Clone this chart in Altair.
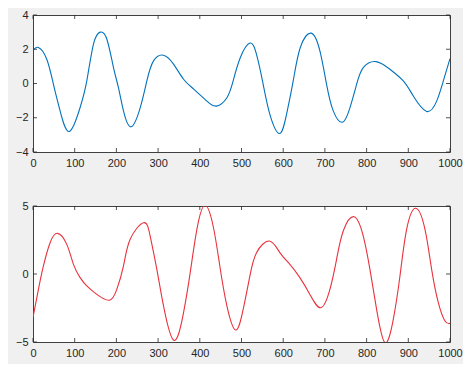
import altair as alt
import pandas as pd

# Top series (blue)
top_x = [0, 13, 33, 49, 65, 87, 113, 129, 145, 161, 177, 193, 205, 217, 235, 257, 273, 289, 313,
         337, 361, 386, 417, 440, 465, 480, 497, 520, 536, 552, 568, 591, 608, 624, 641, 667, 688,
         704, 720, 742, 760, 776, 792, 823, 856, 888, 912, 944, 968, 984, 1000]
top_y = [1.95, 2.1, 1.42, -0.05, -1.6, -2.8, -1.4, 0.15, 2.3, 3.0, 2.6, 0.93, -0.25, -1.6, -2.53,
         -1.42, 0.15, 1.32, 1.65, 1.13, 0.25, -0.34, -1.03, -1.32, -0.83, 0.15, 1.5, 2.36, 1.7,
         -0.05, -1.8, -2.92, -1.8, 0.15, 2.1, 2.94, 1.9, -0.05, -1.6, -2.26, -1.42, -0.05, 0.93,
         1.28, 0.83, 0.15, -0.73, -1.63, -1.03, 0.15, 1.45]

# Bottom series (red)
bot_x = [0, 13, 25, 41, 59, 81, 97, 113, 129, 153, 183, 201, 217, 233, 265, 281, 297, 313, 338,
         361, 377, 393, 412, 432, 448, 465, 486, 504, 520, 536, 567, 592, 616, 640, 664, 690, 712,
         728, 744, 770, 792, 808, 824, 844, 864, 880, 896, 918, 940, 956, 972, 988, 1000]
bot_y = [-3.2, -1.13, 0.59, 2.3, 2.99, 2.18, 0.71, -0.27, -0.88, -1.5, -1.93, -1.13, 0.59, 2.55,
         3.77, 2.79, 0.34, -2.35, -4.88, -2.84, 0.1, 3.28, 5.05, 3.53, 0.59, -2.35, -4.12, -2.6,
         -0.15, 1.57, 2.43, 1.57, 0.71, -0.27, -1.5, -2.48, -1.13, 1.08, 3.16, 4.21, 2.79, 0.34,
         -2.6, -5.05, -3.33, -0.15, 3.28, 4.83, 3.28, 0.34, -2.11, -3.46, -3.63]

x_ticks = [0, 100, 200, 300, 400, 500, 600, 700, 800, 900, 1000]
top_y_ticks = [-4, -2, 0, 2, 4]
bot_y_ticks = [-5, 0, 5]

W = 417
TICK = 4
AX_COLOR = "#262626"
FONT = "Liberation Sans"


def panel(xs, ys, color, yticks, ydom, h):
    df = pd.DataFrame({"x": xs, "y": ys})
    xscale = alt.Scale(domain=[0, 1000], nice=False, zero=False)
    yscale = alt.Scale(domain=ydom, nice=False, zero=False)
    common = dict(ticks=False, domain=False, grid=False, labelPadding=5,
                  labelFont=FONT, labelFontSize=11, labelColor=AX_COLOR,
                  title=None, labelFlush=False, labelOverlap=False, format="d")
    xaxis = alt.Axis(values=x_ticks, **common)
    yaxis = alt.Axis(values=yticks, **common)
    line = alt.Chart(df).mark_line(color=color, strokeWidth=1.1, clip=True,
                                   interpolate="natural").encode(
        x=alt.X("x:Q", scale=xscale, axis=xaxis),
        y=alt.Y("y:Q", scale=yscale, axis=yaxis),
    )
    xt = pd.DataFrame({"t": x_ticks})
    yt = pd.DataFrame({"t": yticks})
    xb = alt.Chart(xt).mark_rule(color=AX_COLOR, strokeWidth=0.8).encode(
        x=alt.X("t:Q", scale=xscale, axis=xaxis), y=alt.value(h), y2=alt.value(h - TICK))
    xtp = alt.Chart(xt).mark_rule(color=AX_COLOR, strokeWidth=0.8).encode(
        x=alt.X("t:Q", scale=xscale, axis=xaxis), y=alt.value(0), y2=alt.value(TICK))
    yl = alt.Chart(yt).mark_rule(color=AX_COLOR, strokeWidth=0.8).encode(
        y=alt.Y("t:Q", scale=yscale, axis=yaxis), x=alt.value(0), x2=alt.value(TICK))
    yr = alt.Chart(yt).mark_rule(color=AX_COLOR, strokeWidth=0.8).encode(
        y=alt.Y("t:Q", scale=yscale, axis=yaxis), x=alt.value(W - TICK), x2=alt.value(W))
    return alt.layer(line, xb, xtp, yl, yr).properties(width=W, height=h)


top = panel(top_x, top_y, "#0072BD", top_y_ticks, [-4, 4], 137)
bot = panel(bot_x, bot_y, "#E8323C", bot_y_ticks, [-5, 5], 136)

chart = alt.vconcat(top, bot, spacing=30).properties(
    background="#f0f0f0",
    padding={"left": 6, "top": 0, "right": 0, "bottom": 5},
).configure_view(fill="white", stroke="#404040", strokeWidth=1)

chart.save("out.html", embed_options={"renderer": "svg", "actions": False})
